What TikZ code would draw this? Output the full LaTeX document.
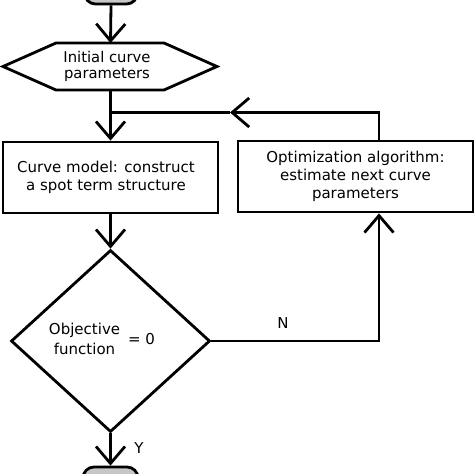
\documentclass[tikz,border=0pt]{standalone}
\usepackage{fontspec}
\setmainfont{DejaVu Sans}
\usetikzlibrary{arrows.meta,shapes.geometric}
\tikzset{
  every node/.style={font=\fontsize{15pt}{18pt}\selectfont},
  ln/.style={line width=2.8pt, line join=miter},
  arr/.style={ln, -{Straight Barb[length=17pt,width=29pt,line width=2.8pt]}},
  box/.style={draw, ln, rectangle, inner sep=0pt, align=center},
  term/.style={draw, ln, fill=black!22, rounded corners=11pt, inner sep=0pt},
  lbl/.style={inner sep=0pt}
}
\begin{document}
\begin{tikzpicture}[x=1pt,y=-1pt]
\useasboundingbox (0,0) rectangle (474,474);
\begin{scope}
\clip (0,0) rectangle (474,474);
\node[term, minimum width=53pt, minimum height=40pt] (start) at (111,-16) {};
\node[term, minimum width=55pt, minimum height=40pt] (stop) at (110.5,487) {};
\end{scope}

% hexagon
\coordinate (hT) at (110.5,43);
\coordinate (hB) at (110.5,90);
\draw[ln] (3,66.5) -- (56,43) -- (164,43) -- (217,66.5) -- (164,90) -- (56,90) -- cycle;
\node[lbl, align=center, font=\fontsize{14.8pt}{16pt}\selectfont] (init) at (107,66) {Initial curve\\parameters};

\node[box, minimum width=215pt, minimum height=71pt] (model) at (110.5,177.5) {\hspace*{-9pt}Curve model: construct\\\hspace*{-9pt}a spot term structure};
\node[box, minimum width=235pt, minimum height=71pt] (opt) at (355.5,176.5) {Optimization algorithm:\\estimate next curve\\parameters};

\node[draw, ln, diamond, minimum width=199pt, minimum height=182pt, inner sep=0pt] (dia) at (110.5,341)
  {\begin{tabular}{@{}c@{}}Objective\\[2pt]function\end{tabular}\hspace{8pt}= 0\rule{17pt}{0pt}};

\draw[arr] (start.south) -- (hT);
\coordinate (j) at (110.5,112.5);
\coordinate (fa) at (230,112.5);
\draw[ln] (hB) -- (j);
\draw[arr] (j) -- (model.north);
\coordinate (fbTop) at ([xshift=23.5pt]opt.north);
\coordinate (fbBot) at ([xshift=23.5pt]opt.south);
\draw[arr] (fbTop) |- (fa);
\draw[ln] (fa) -- (j);
\draw[arr] (model.south) -- (dia.north);
\draw[arr] (dia.east) -| (fbBot);
\node[lbl] (nlab) at (283,323) {N};
\draw[arr] (dia.south) -- (stop.north);
\node[lbl] (ylab) at (139,448) {Y};
\end{tikzpicture}
\end{document}
